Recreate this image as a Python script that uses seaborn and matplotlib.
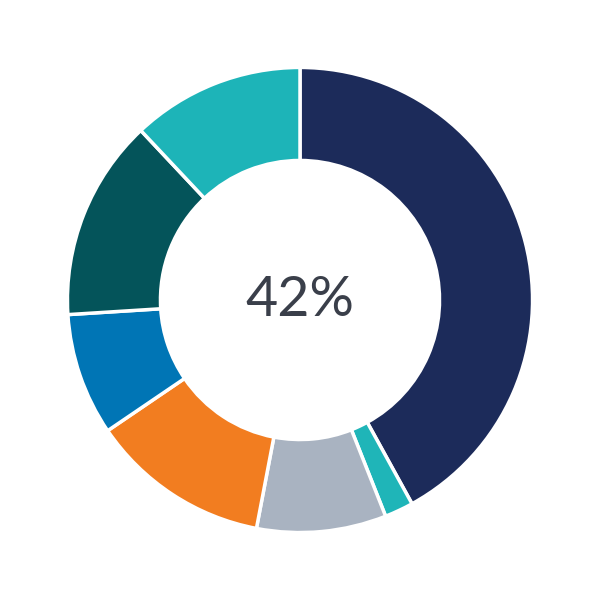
import matplotlib
matplotlib.use("Agg")
import matplotlib.pyplot as plt
import seaborn as sns

segments = ["Navy", "Teal small", "Gray", "Orange", "Blue", "Dark teal", "Teal"]
values = [42, 2, 9, 12.5, 8.5, 14, 12]
colors = ["#1c2b5a", "#1fb5b8", "#a9b3c1", "#f27d20", "#0075b5", "#04545a", "#1db4b8"]
center_label = "42%"

sns.set_theme(style="white")
plt.rcParams['font.family'] = ['Lato', 'DejaVu Sans']

fig, ax = plt.subplots(figsize=(6, 6), dpi=100)
fig.subplots_adjust(left=0, right=1, top=1, bottom=0)
ax.pie(values, colors=colors, startangle=90, counterclock=False,
       radius=1.0,
       wedgeprops=dict(width=0.40, edgecolor="white", linewidth=2.5))
ax.text(0, 0, center_label, ha="center", va="center", fontsize=40,
        color="#3a3f4a", fontweight="normal")
ax.set_xlim(-1.29, 1.29)
ax.set_ylim(-1.29, 1.29)
ax.set_aspect("equal")
ax.axis("off")
fig.savefig("out.png", dpi=100, facecolor="white")
